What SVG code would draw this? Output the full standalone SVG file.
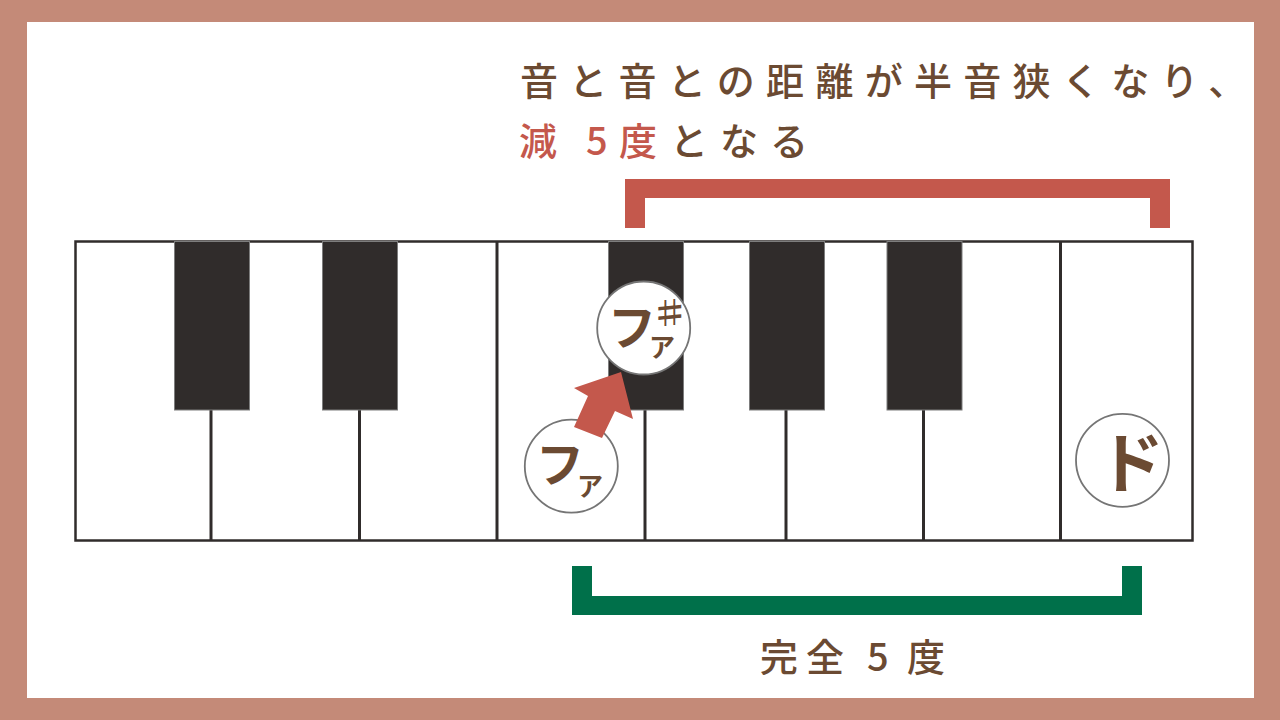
<svg xmlns="http://www.w3.org/2000/svg" width="1280" height="720" viewBox="0 0 1280 720">
<style>
.t{font-family:"Noto Sans CJK JP","Noto Sans",sans-serif;font-weight:500;font-size:38px;fill:#6b4a32}
.red{fill:#c4584c}
.lbl{font-family:"Noto Sans CJK JP","Noto Sans",sans-serif;font-weight:700;fill:#6b4a32;text-anchor:middle}
.wk{fill:#fff;stroke:#302c2b;stroke-width:2.5}
.div{stroke:#302c2b;stroke-width:3}
.bk{fill:#302c2b;stroke:#7d7d7d;stroke-width:1}
.nc{fill:#fff;stroke:#757575;stroke-width:1.8}
</style>
<rect x="0" y="0" width="1280" height="720" fill="#c48a78"/>
<rect x="27" y="22" width="1227" height="676" fill="#fff"/>

<g id="keyboard">
<rect class="wk" x="75.5" y="241.5" width="1117" height="299"/>
<line class="div" x1="211" y1="410" x2="211" y2="540"/>
<line class="div" x1="359.5" y1="410" x2="359.5" y2="540"/>
<line class="div" x1="497" y1="241" x2="497" y2="540"/>
<line class="div" x1="645" y1="410" x2="645" y2="540"/>
<line class="div" x1="786" y1="410" x2="786" y2="540"/>
<line class="div" x1="923.5" y1="410" x2="923.5" y2="540"/>
<line class="div" x1="1060.5" y1="241" x2="1060.5" y2="540"/>
<rect class="bk" x="174.5" y="241.5" width="75" height="168.5"/>
<rect class="bk" x="322.5" y="241.5" width="75" height="168.5"/>
<rect class="bk" x="608.5" y="241.5" width="75" height="168.5"/>
<rect class="bk" x="749.5" y="241.5" width="75" height="168.5"/>
<rect class="bk" x="887" y="241.5" width="75" height="168.5"/>
</g>

<g id="node-fa">
<circle class="nc" cx="571.3" cy="466.2" r="46.5"/>
<text class="lbl" x="560" y="482" font-size="48">フ</text>
<text class="lbl" x="590" y="496" font-size="26">ア</text>
</g>

<g id="node-fa-sharp">
<circle class="nc" cx="643.7" cy="328" r="46.5"/>
<text class="lbl" x="632" y="344.5" font-size="48">フ</text>
<text class="lbl" x="0" y="0" font-size="30" font-weight="500" transform="translate(670,323) scale(1.5,1)">♯</text>
<text class="lbl" x="662" y="357" font-size="26">ア</text>
</g>

<g id="node-do">
<circle class="nc" cx="1122.5" cy="460.3" r="46.5"/>
<text class="lbl" x="1131" y="487" font-size="66">ド</text>
</g>

<g id="connectors">
<polygon fill="#c4584c" points="574,427 588,396 574,388 621,372 633,419 615,411 602,438"/>
<polygon fill="#c4584c" points="625,228 625,179 1170,179 1170,228 1150,228 1150,198 645,198 645,228"/>
<polygon fill="#00704a" points="572,566 592,566 592,596 1122,596 1122,566 1142,566 1142,615 572,615"/>
</g>

<g id="labels">
<text class="t" x="520" y="95" letter-spacing="11.3">音と音との距離が半音狭くなり、</text>
<text class="t" y="155"><tspan class="red" x="519 586 619">減5度</tspan><tspan x="670 720 770">となる</tspan></text>
<text class="t" y="671" x="760 806 867 907">完全5度</text>
</g>
</svg>
